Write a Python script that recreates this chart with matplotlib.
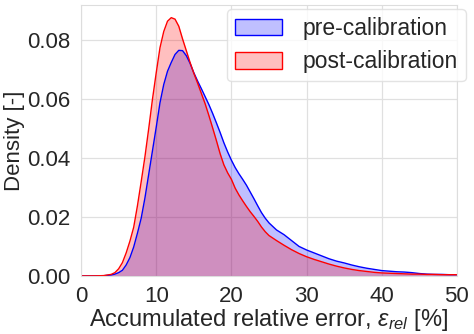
import numpy as np
import matplotlib
matplotlib.use("Agg")
import matplotlib.pyplot as plt
import seaborn as sns
from matplotlib.patches import Patch

# x positions (accumulated relative error, %)
x_vals = [0, 1, 2, 3, 4, 4.5, 5, 5.5, 6, 6.5, 7, 7.5, 8, 8.5, 9, 9.5, 10, 10.5,
          11, 11.5, 12, 12.5, 13, 13.5, 14, 14.5, 15, 15.5, 16, 16.5, 17, 17.5,
          18, 18.5, 19, 19.5, 20, 20.5, 21, 21.5, 22, 22.5, 23, 23.5, 24, 24.5,
          25, 26, 27, 28, 29, 30, 31, 32, 33, 34, 35, 36, 37, 38, 39, 40, 41,
          42, 43, 44, 45, 46, 47, 48, 49, 50]

pre_density = [0, 0, 0.00001, 0.00005, 0.0003, 0.0006, 0.0011, 0.0019, 0.0037,
               0.0062, 0.0098, 0.0145, 0.0196, 0.0265, 0.0345, 0.0425, 0.0505,
               0.0588, 0.0650, 0.0695, 0.0725, 0.0752, 0.0766, 0.0765, 0.0748,
               0.0722, 0.0690, 0.0662, 0.0636, 0.0609, 0.0582, 0.0552, 0.0520,
               0.0487, 0.0452, 0.0421, 0.0393, 0.0368, 0.0347, 0.0328, 0.0308,
               0.0285, 0.0262, 0.0238, 0.0215, 0.0196, 0.0180, 0.0156, 0.0140,
               0.0120, 0.0100, 0.0088, 0.0078, 0.0068, 0.0058, 0.0050, 0.0044,
               0.0037, 0.0031, 0.0026, 0.0022, 0.0018, 0.0016, 0.0014, 0.0013,
               0.0011, 0.0008, 0.0006, 0.0005, 0.0005, 0.0004, 0.0004]

post_density = [0, 0, 0.00002, 0.0001, 0.0005, 0.0011, 0.0024, 0.0045, 0.0078,
                0.0118, 0.0165, 0.0238, 0.0320, 0.0405, 0.0500, 0.0600, 0.0690,
                0.0775, 0.0830, 0.0865, 0.0877, 0.0872, 0.0848, 0.0805, 0.0765,
                0.0725, 0.0688, 0.0655, 0.0620, 0.0585, 0.0545, 0.0503, 0.0460,
                0.0415, 0.0377, 0.0350, 0.0328, 0.0298, 0.0275, 0.0255, 0.0236,
                0.0218, 0.0202, 0.0185, 0.0166, 0.0150, 0.0137, 0.0120, 0.0104,
                0.0089, 0.0076, 0.0065, 0.0056, 0.0048, 0.0040, 0.0033, 0.0027,
                0.0022, 0.0018, 0.0015, 0.0012, 0.0010, 0.0009, 0.0008, 0.0007,
                0.0006, 0.0006, 0.0005, 0.0005, 0.0004, 0.0004, 0.0004]

series_labels = ["pre-calibration", "post-calibration"]
series_colors = ["blue", "red"]
x_ticks = [0, 10, 20, 30, 40, 50]
y_ticks = [0.00, 0.02, 0.04, 0.06, 0.08]

sns.set_style("whitegrid")
plt.rcParams['font.family'] = ['Liberation Sans', 'DejaVu Sans']
plt.rcParams['mathtext.fontset'] = 'custom'
plt.rcParams['mathtext.rm'] = 'Liberation Sans'
plt.rcParams['mathtext.it'] = 'Liberation Sans:italic'

fig = plt.figure(figsize=(4.74, 3.34), dpi=100)
ax = fig.add_axes([0.171, 0.174, 0.793, 0.811])

x = np.array(x_vals)
handles = []
for dens, lab, col in zip([pre_density, post_density], series_labels, series_colors):
    d = np.array(dens)
    ax.fill_between(x, 0, d, color=col, alpha=0.25, linewidth=0)
    ax.plot(x, d, color=col, lw=1.0)
    handles.append(Patch(facecolor=matplotlib.colors.to_rgba(col, 0.25),
                         edgecolor=col, linewidth=1.0, label=lab))

ax.set_xlim(0, 50)
ax.set_ylim(0, 0.092)
ax.set_xticks(x_ticks)
ax.set_yticks(y_ticks)
ax.set_yticklabels([f"{v:.2f}" for v in y_ticks])
ax.tick_params(labelsize=16, pad=4, colors='#262626')
ax.set_xlabel(r'Accumulated relative error, $\varepsilon_{rel}$ [%]', fontsize=17,
              labelpad=0, color='#262626')
ax.set_ylabel('Density [-]', fontsize=16, labelpad=2, color='#262626')
ax.grid(True, color='#e0e0e0', lw=0.9)
for s in ax.spines.values():
    s.set_color('#dddddd')

leg = ax.legend(handles=handles, loc='upper right', fontsize=16.5, frameon=True,
                bbox_to_anchor=(1.024, 0.985), borderaxespad=0.0,
                handlelength=2.05, handleheight=0.74,
                labelspacing=0.45, handletextpad=0.9, borderpad=0.35)
leg.get_frame().set_edgecolor('#dddddd')

fig.savefig("out.png", dpi=100)
